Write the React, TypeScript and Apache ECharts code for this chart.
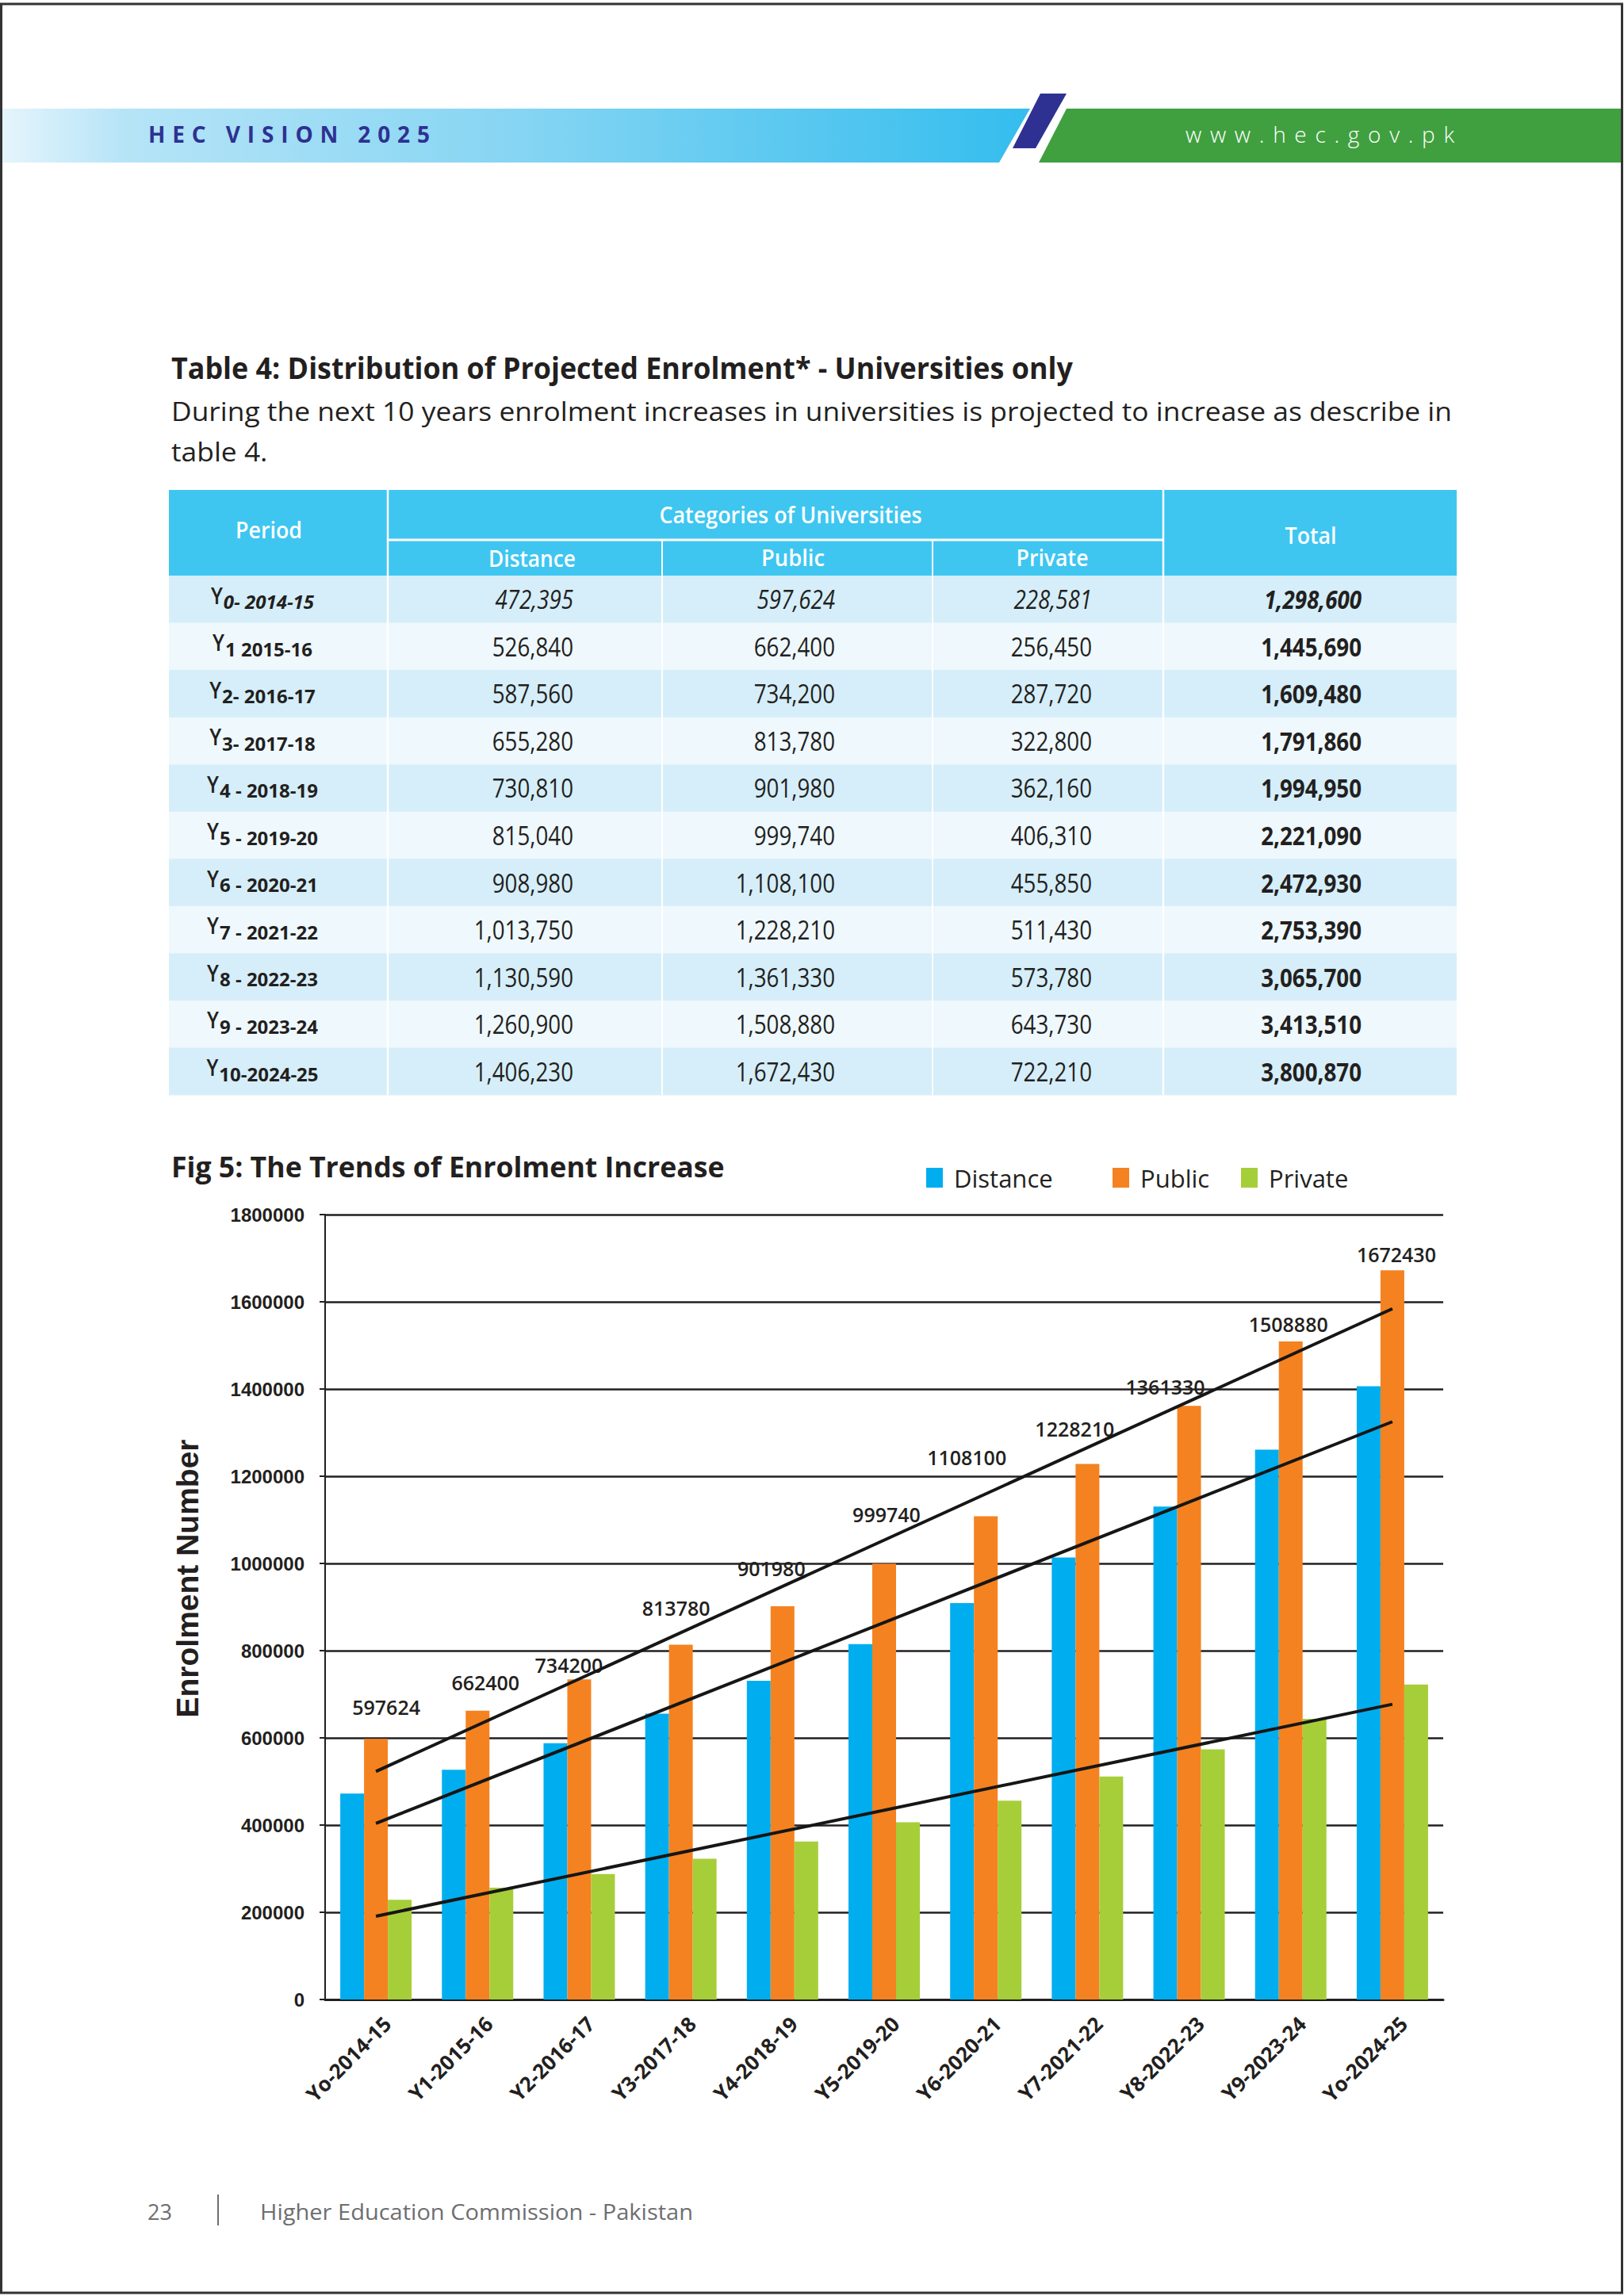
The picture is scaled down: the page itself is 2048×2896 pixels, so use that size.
import React, { useEffect, useRef } from 'react';
import * as echarts from 'echarts';

// ---------------- data ----------------
const periodLabels = ['Yo-2014-15', 'Y1-2015-16', 'Y2-2016-17', 'Y3-2017-18', 'Y4-2018-19', 'Y5-2019-20', 'Y6-2020-21', 'Y7-2021-22', 'Y8-2022-23', 'Y9-2023-24', 'Yo-2024-25'];
const periodSubs = ['0- 2014-15', '1 2015-16', '2- 2016-17', '3- 2017-18', '4 - 2018-19', '5 - 2019-20', '6 - 2020-21', '7 - 2021-22', '8 - 2022-23', '9 - 2023-24', '10-2024-25'];
const distanceVals = [472395, 526840, 587560, 655280, 730810, 815040, 908980, 1013750, 1130590, 1260900, 1406230];
const publicVals = [597624, 662400, 734200, 813780, 901980, 999740, 1108100, 1228210, 1361330, 1508880, 1672430];
const privateVals = [228581, 256450, 287720, 322800, 362160, 406310, 455850, 511430, 573780, 643730, 722210];
const totalVals = [1298600, 1445690, 1609480, 1791860, 1994950, 2221090, 2472930, 2753390, 3065700, 3413510, 3800870];
const seriesNames = ['Distance', 'Public', 'Private'];
// trend line end values (first and last period)
const distanceTrend = [404000, 1325000];
const publicTrend = [523000, 1584000];
const privateTrend = [191000, 677000];
const yMin = 0;
const yMax = 1800000;
const yStep = 200000;

// ---------------- layout / style ----------------
const W = 2048;
const H = 2896;
const INK = '#231f20';
const COLORS = ['#00aeef', '#f58220', '#a6ce39'];
const OS = 'Open Sans';
// per-label nudges [dx, lift] of the public value labels, as placed in the reference
const publicLabelNudge = [[13, 24], [10, 19], [-13, 2], [-6, 30], [-14, 31], [3, 46], [-24, 58], [-16, 28], [-30, 8], [-3, 6], [5, 4]];

let _ctx: CanvasRenderingContext2D | null = null;
function measure(text: string, font: string): number {
  if (!_ctx) _ctx = document.createElement('canvas').getContext('2d');
  _ctx!.font = font;
  return _ctx!.measureText(text).width;
}

type TOpts = { size: number; weight?: string | number; fstyle?: string; family?: string; fill?: string; align?: string; width?: number; sx?: number; rotation?: number };
function txt(text: string, x: number, y: number, o: TOpts) {
  const weight = o.weight ?? 'normal';
  const fstyle = o.fstyle ?? 'normal';
  const family = o.family ?? OS;
  const font = `${fstyle} ${weight} ${o.size}px '${family}'`;
  const sx = o.width ? o.width / measure(text, font) : (o.sx ?? 1);
  return {
    type: 'text',
    x,
    y,
    scaleX: sx,
    rotation: o.rotation ?? 0,
    silent: true,
    style: {
      text,
      fontSize: o.size,
      fontWeight: weight,
      fontStyle: fstyle,
      fontFamily: family,
      fill: o.fill ?? INK,
      align: o.align ?? 'left',
      verticalAlign: 'middle',
    },
  };
}

const fmt = (v: number) => v.toLocaleString('en-US');

function buildGraphic() {
  const g: any[] = [];
  // header band
  g.push({
    type: 'polygon',
    silent: true,
    shape: { points: [[0, 137], [1299, 137], [1260, 205], [0, 205]] },
    style: {
      fill: new echarts.graphic.LinearGradient(0, 0, 1, 0, [
        { offset: 0, color: '#e6f5fc' },
        { offset: 0.12, color: '#b6e4f7' },
        { offset: 0.5, color: '#86d5f3' },
        { offset: 1, color: '#34bdee' },
      ]),
    },
  });
  g.push({ type: 'polygon', silent: true, shape: { points: [[1312, 118], [1345, 118], [1306, 187], [1277, 187]] }, style: { fill: '#2e3192' } });
  g.push({ type: 'polygon', silent: true, shape: { points: [[1345, 137], [2046, 137], [2046, 205], [1310, 205]] }, style: { fill: '#40a03f' } });

  // title + paragraph
  g.push(txt('Table 4: Distribution of Projected Enrolment* - Universities only', 216, 464, { size: 38, weight: 'bold', width: 1137 }));
  const line1 = 'During the next 10 years enrolment increases in universities is projected to increase as describe in';
  const pSx = 1616 / measure(line1, `normal normal 32px '${OS}'`);
  g.push(txt(line1, 216, 519, { size: 32, sx: pSx }));
  g.push(txt('table 4.', 216, 570, { size: 32, sx: pSx }));

  // table
  const TL = 213, TR = 1837, TT = 618, TSUB = 681, THEAD = 726, RH = 59.55;
  const cols = [213, 489, 835, 1176, 1467, 1837];
  const TB = THEAD + RH * periodSubs.length;
  g.push({ type: 'rect', silent: true, shape: { x: TL, y: TT, width: TR - TL, height: THEAD - TT }, style: { fill: '#3ec6f1' } });
  periodSubs.forEach((_, r) => {
    g.push({ type: 'rect', silent: true, shape: { x: TL, y: THEAD + r * RH, width: TR - TL, height: RH + 0.5 }, style: { fill: r % 2 === 0 ? '#d5eef9' : '#eef8fd' } });
  });
  const wl = (x1: number, y1: number, x2: number, y2: number, w: number) => ({ type: 'line', silent: true, shape: { x1, y1, x2, y2 }, style: { stroke: '#ffffff', lineWidth: w } });
  g.push(wl(cols[1], TT, cols[1], TB, 2.5));
  g.push(wl(cols[4], TT, cols[4], TB, 2.5));
  g.push(wl(cols[2], TSUB, cols[2], TB, 2));
  g.push(wl(cols[3], TSUB, cols[3], TB, 2));
  g.push(wl(cols[1], TSUB, cols[4], TSUB, 3));
  const hs = { size: 29, weight: 600, fill: '#ffffff', align: 'center' };
  g.push(txt('Period', 339, 668, { ...hs, width: 84 }));
  g.push(txt('Categories of Universities', 997, 649, { ...hs, width: 331 }));
  g.push(txt(seriesNames[0], 671, 703, { ...hs, width: 110 }));
  g.push(txt(seriesNames[1], 1000, 703, { ...hs, width: 80 }));
  g.push(txt(seriesNames[2], 1327, 703, { ...hs, width: 91 }));
  g.push(txt('Total', 1653, 675, { ...hs, width: 65 }));

  const ySx = 0.9;
  const valRight = [723, 1053, 1377, 1717];
  const valSx = 0.867;
  periodSubs.forEach((sub, r) => {
    const top = THEAD + r * RH;
    const it = r === 0 ? 'italic' : 'normal';
    const wY = measure('Y', `normal 600 28px '${OS}'`) * ySx;
    const wS = measure(sub, `${it} bold 24px '${OS}'`);
    const x0 = 331 - (wY + wS + 1) / 2;
    g.push(txt('Y', x0, top + 25, { size: 28, weight: 600, sx: ySx }));
    g.push(txt(sub, x0 + wY + 1, top + 32.5, { size: 24, weight: 'bold', fstyle: it }));
    const vals = [distanceVals[r], publicVals[r], privateVals[r], totalVals[r]];
    vals.forEach((v, c) => {
      g.push(txt(fmt(v), valRight[c], top + 30, { size: 32, weight: c === 3 ? 'bold' : 'normal', fstyle: it, align: 'right', sx: valSx }));
    });
  });

  // figure title + y axis name
  g.push(txt('Fig 5: The Trends of Enrolment Increase', 216, 1471, { size: 36, weight: 'bold', width: 698 }));
  g.push(txt('Enrolment Number', 236, 1991, { size: 39, weight: 'bold', family: 'Liberation Sans', align: 'center', rotation: Math.PI / 2 }));

  // footer
  g.push(txt('23', 186, 2789, { size: 28, fill: '#6d6e71', width: 31 }));
  g.push({ type: 'line', silent: true, shape: { x1: 275, y1: 2768, x2: 275, y2: 2807 }, style: { stroke: '#6d6e71', lineWidth: 2 } });
  g.push(txt('Higher Education Commission - Pakistan', 328, 2789, { size: 28, fill: '#6d6e71', width: 546 }));

  // page frame
  g.push({ type: 'rect', silent: true, z: 100, shape: { x: 1.5, y: 5, width: 2044, height: 2887 }, style: { fill: 'none', stroke: '#333333', lineWidth: 3 } });
  return g;
}

// trend lines are attached to the middle (Public) series so that they run from group centre to group centre
function trendLines() {
  const last = periodLabels.length - 1;
  return {
    silent: true,
    symbol: ['none', 'none'],
    label: { show: false },
    lineStyle: { color: '#161616', width: 4, type: 'solid' },
    emphasis: { disabled: true },
    data: [distanceTrend, publicTrend, privateTrend].map((ends) => [{ coord: [0, ends[0]] }, { coord: [last, ends[1]] }]),
  };
}

function buildOption(): any {
  const legendLefts = [1163, 1398, 1560];
  return {
    animation: false,
    backgroundColor: '#ffffff',
    graphic: { elements: buildGraphic() },
    legend: seriesNames.map((n, i) => ({
      data: [n],
      left: legendLefts[i],
      top: 1465,
      icon: 'rect',
      itemWidth: 21,
      itemHeight: 25,
      selectedMode: false,
      textStyle: { fontFamily: OS, fontSize: 31, color: INK, padding: [0, 0, 0, 9] },
    })),
    grid: { left: 410, top: 1532, width: 1410, height: 990, containLabel: false },
    xAxis: {
      type: 'category',
      data: periodLabels,
      axisLine: { lineStyle: { color: INK, width: 3 } },
      axisTick: { show: false },
      axisLabel: {
        interval: 0,
        rotate: 45,
        margin: 40,
        padding: [0, -20, 0, 0],
        fontFamily: OS,
        fontWeight: 'bold',
        fontSize: 26,
        color: INK,
      },
    },
    yAxis: {
      type: 'value',
      min: yMin,
      max: yMax,
      interval: yStep,
      axisLine: { show: true, lineStyle: { color: INK, width: 2 } },
      axisTick: { show: true, length: 7, lineStyle: { color: INK, width: 2 } },
      splitLine: { show: true, lineStyle: { color: INK, width: 2.5 } },
      axisLabel: {
        formatter: (v: number) => String(v),
        fontFamily: 'Liberation Sans',
        fontWeight: 'bold',
        fontSize: 24,
        color: INK,
        margin: 26,
      },
    },
    series: [
      {
        name: seriesNames[0],
        type: 'bar',
        data: distanceVals,
        barWidth: 30,
        barGap: '0%',
        itemStyle: { color: COLORS[0] },
      },
      {
        name: seriesNames[1],
        type: 'bar',
        data: publicVals.map((v, i) => ({ value: v, label: { offset: [publicLabelNudge[i][0], -publicLabelNudge[i][1]] } })),
        barWidth: 30,
        barGap: '0%',
        itemStyle: { color: COLORS[1] },
        label: {
          show: true,
          position: 'top',
          distance: 4,
          formatter: (p: any) => String(p.value),
          fontFamily: OS,
          fontWeight: 600,
          fontSize: 25,
          color: INK,
        },
        markLine: trendLines(),
      },
      {
        name: seriesNames[2],
        type: 'bar',
        data: privateVals,
        barWidth: 30,
        barGap: '0%',
        itemStyle: { color: COLORS[2] },
      },
    ],
  };
}

function spacingFor(text: string, font: string, target: number) {
  return (target - measure(text, font)) / (text.length - 1);
}

export default function App() {
  const ref = useRef<HTMLDivElement>(null);
  useEffect(() => {
    document.body.style.margin = '0';
    const chart = echarts.init(ref.current!, null, { renderer: 'svg', width: W, height: H });
    chart.setOption(buildOption());
    return () => chart.dispose();
  }, []);

  const hecText = 'HEC VISION 2025';
  const wwwText = 'www.hec.gov.pk';
  const hecLs = spacingFor(hecText, `normal bold 28px '${OS}'`, 355);
  const wwwLs = spacingFor(wwwText, `normal 300 28px '${OS}'`, 339);

  return (
    <div style={{ position: 'absolute', left: 0, top: 0, width: W, height: H, background: '#ffffff', overflow: 'hidden' }}>
      <div ref={ref} style={{ position: 'absolute', left: 0, top: 0, width: W, height: H }} />
      <div style={{ position: 'absolute', left: 187, top: 155, fontFamily: `'${OS}'`, fontWeight: 700, fontSize: 28, lineHeight: '28px', letterSpacing: `${hecLs}px`, color: '#2e3192', whiteSpace: 'nowrap' }}>{hecText}</div>
      <div style={{ position: 'absolute', left: 1495, top: 155, fontFamily: `'${OS}'`, fontWeight: 300, fontSize: 28, lineHeight: '28px', letterSpacing: `${wwwLs}px`, color: '#ffffff', whiteSpace: 'nowrap' }}>{wwwText}</div>
    </div>
  );
}
